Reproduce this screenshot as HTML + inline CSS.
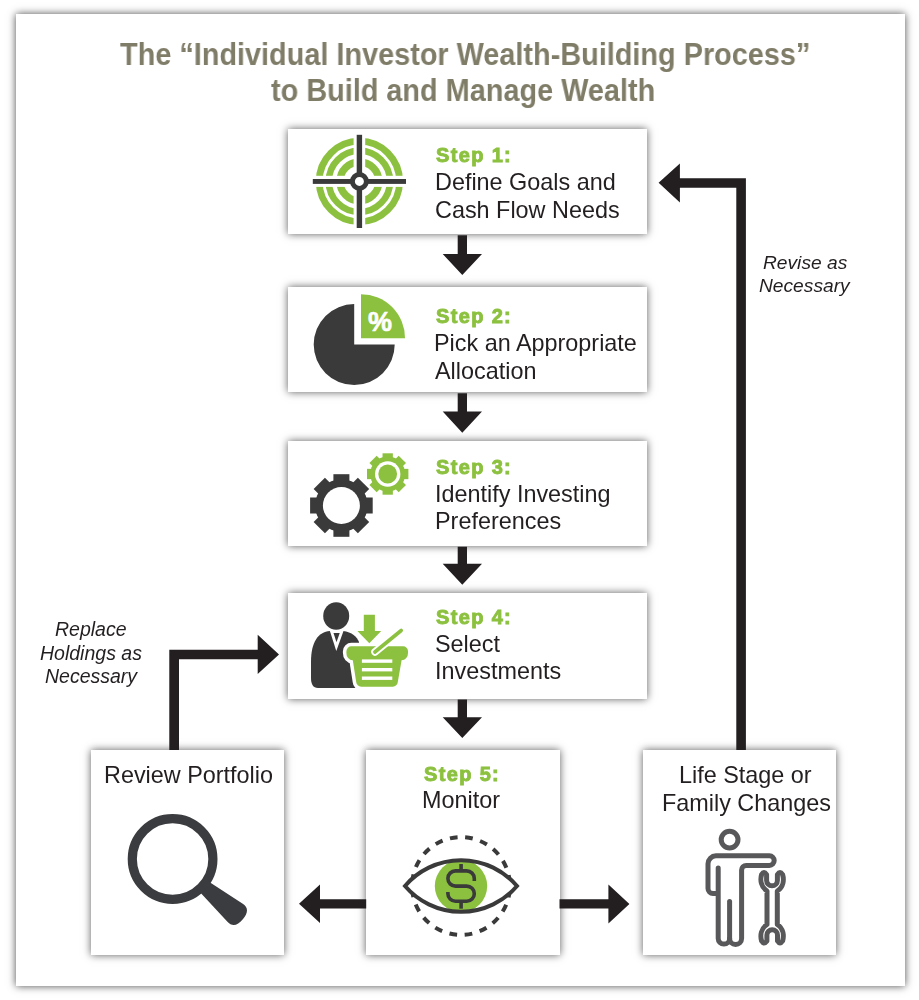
<!DOCTYPE html>
<html><head><meta charset="utf-8">
<style>
html,body{margin:0;padding:0;background:#fff;}
body{width:919px;height:1000px;position:relative;overflow:hidden;font-family:"Liberation Sans",sans-serif;color:#231f20;}
.frame{position:absolute;left:16px;top:14px;width:889px;height:972px;background:#fff;box-shadow:0 0 8px rgba(0,0,0,0.7);}
.box{position:absolute;background:#fff;box-shadow:0 0 8px rgba(0,0,0,0.64);}
.t{position:absolute;white-space:nowrap;line-height:1;will-change:transform;}
.title{font-weight:bold;font-size:30.6px;color:#7f7c67;transform:scaleX(0.943);transform-origin:0 0;}
.step{font-weight:bold;font-size:20px;color:#8cc13f;letter-spacing:1.35px;-webkit-text-stroke:0.9px #8cc13f;}
.body{font-size:23.4px;}
.it{font-style:italic;font-size:19px;}
svg{position:absolute;left:0;top:0;}
</style></head>
<body>
<div class="frame"></div>

<div class="box" style="left:288px;top:129px;width:359px;height:105px"></div>
<div class="box" style="left:288px;top:287px;width:359px;height:105px"></div>
<div class="box" style="left:288px;top:441px;width:359px;height:105px"></div>
<div class="box" style="left:288px;top:593px;width:359px;height:106px"></div>
<div class="box" style="left:91px;top:750px;width:193px;height:205px"></div>
<div class="box" style="left:366px;top:750px;width:193.5px;height:205px"></div>
<div class="box" style="left:643px;top:750px;width:193px;height:205px"></div>

<svg width="919" height="1000" viewBox="0 0 919 1000">
  <g fill="#231f20">
    <!-- down arrows -->
    <path d="M457.7 235.3 H467 V254 H482 L462.3 275 L442.7 254 H457.7 Z"/>
    <path d="M457.7 393.2 H467 V411.6 H482 L462.3 432.7 L442.7 411.6 H457.7 Z"/>
    <path d="M457.7 546.8 H467 V563.7 H482 L462.3 584.8 L442.7 563.7 H457.7 Z"/>
    <path d="M457.7 699.6 H467 V717.2 H482 L462.3 738.1 L442.7 717.2 H457.7 Z"/>
    <!-- left connector -->
    <path d="M169.3 750 V649.7 H257.7 V634.8 L279 654.4 L257.7 674 V659.2 H179 V750 Z"/>
    <!-- right connector -->
    <path d="M745.9 750 V178.2 H679.9 V163.4 L658.6 182.8 L679.9 202.6 V187.8 H736.3 V750 Z"/>
    <!-- side arrows from step5 -->
    <path d="M366.2 899.2 H320 V884.5 L299 903.8 L320 923.1 V908.4 H366.2 Z"/>
    <path d="M559.5 899.2 H608.4 V884.5 L629.4 904 L608.4 923.5 V908.6 H559.5 Z"/>
  </g>
</svg>


<svg width="919" height="1000" viewBox="0 0 919 1000">
  <!-- Step1 target icon -->
  <g>
    <g fill="none" stroke="#8cc13f">
      <circle cx="359.4" cy="181.4" r="40.2" stroke-width="6.8"/>
      <circle cx="359.4" cy="181.4" r="30.6" stroke-width="6.6"/>
      <circle cx="359.4" cy="181.4" r="19.4" stroke-width="7.4"/>
    </g>
    <rect x="353.6" y="130" width="11.6" height="104" fill="#fff"/>
    <rect x="310" y="175.8" width="100" height="11.1" fill="#fff"/>
    <g fill="#3a3a3a">
      <rect x="312.8" y="179" width="93.2" height="4.9"/>
      <rect x="356.7" y="134.8" width="5.4" height="93.2"/>
    </g>
    <circle cx="359.4" cy="181.4" r="6.95" fill="#fff" stroke="#3a3a3a" stroke-width="4.9"/>
  </g>
  <!-- Step2 pie -->
  <g>
    <path d="M354.2 344.6 V304.1 A40.5 40.5 0 1 0 394.7 344.6 Z" fill="#3a3a3a"/>
    <path d="M361 338.2 V294.2 A44 44 0 0 1 405 338.2 Z" fill="#8cc13f"/>
    <text x="380" y="331.2" fill="#fff" stroke="#fff" stroke-width="0.6" font-family="Liberation Sans" font-weight="bold" font-size="27" text-anchor="middle">%</text>
  </g>
  <!-- Step3 gears -->
  <g fill="#3a3a3a">
    <g transform="translate(341.4 505.5)">
      <circle r="26.3"/>
      <rect x="-8" y="-31.3" width="16" height="62.6"/>
      <rect x="-8" y="-31.3" width="16" height="62.6" transform="rotate(45)"/>
      <rect x="-8" y="-31.3" width="16" height="62.6" transform="rotate(90)"/>
      <rect x="-8" y="-31.3" width="16" height="62.6" transform="rotate(135)"/>
      <circle r="18.5" fill="#fff"/>
    </g>
  </g>
  <g transform="translate(387.7 474)">
    <g fill="#fff" stroke="#fff" stroke-width="3">
      <circle r="17.5"/>
      <rect x="-5.15" y="-20.7" width="10.3" height="41.4"/>
      <rect x="-5.15" y="-20.7" width="10.3" height="41.4" transform="rotate(45)"/>
      <rect x="-5.15" y="-20.7" width="10.3" height="41.4" transform="rotate(90)"/>
      <rect x="-5.15" y="-20.7" width="10.3" height="41.4" transform="rotate(135)"/>
    </g>
    <g fill="#8cc13f">
      <circle r="17.5"/>
      <rect x="-5.15" y="-20.7" width="10.3" height="41.4"/>
      <rect x="-5.15" y="-20.7" width="10.3" height="41.4" transform="rotate(45)"/>
      <rect x="-5.15" y="-20.7" width="10.3" height="41.4" transform="rotate(90)"/>
      <rect x="-5.15" y="-20.7" width="10.3" height="41.4" transform="rotate(135)"/>
    </g>
    <circle r="12.7" fill="#fff"/>
    <circle r="9.4" fill="#8cc13f"/>
  </g>
  <!-- Step4 person + basket -->
  <g>
    <ellipse cx="336.2" cy="616" rx="13" ry="13.7" fill="#3a3a3a"/>
    <path d="M330 631 H343 C352 632 357 637 359 642 L362 688 H318 C313 688 311 684 311 678 V662 C311 642 318 632 330 631 Z" fill="#3a3a3a"/>
    <path d="M329.9 631 L336.3 651 L343.5 631 Z" fill="#fff"/>
    <path d="M333.5 633.1 H339.7 L336.5 642.2 Z" fill="#3a3a3a"/>
    <!-- basket white outline -->
    <path d="M351.5 646.3 H403 A5 5 0 0 1 408 651.3 V653 A7 7 0 0 1 401.6 660.3 L397.8 682 A5 5 0 0 1 392.8 686.7 H361.2 A5 5 0 0 1 356.2 682 L352.8 660.3 A7 7 0 0 1 346.4 653 V651.3 A5 5 0 0 1 351.5 646.3 Z" fill="#fff" stroke="#fff" stroke-width="7" stroke-linejoin="round"/>
    <path d="M363.8 614.8 H374.9 V631 H381.2 L369.3 643.3 L357.4 631 H363.8 Z" fill="#8cc13f"/>
    <path d="M351.5 646.3 H403 A5 5 0 0 1 408 651.3 V653 A7 7 0 0 1 401.6 660.3 L397.8 682 A5 5 0 0 1 392.8 686.7 H361.2 A5 5 0 0 1 356.2 682 L352.8 660.3 A7 7 0 0 1 346.4 653 V651.3 A5 5 0 0 1 351.5 646.3 Z" fill="#8cc13f"/>
    <g fill="#fff">
      <rect x="361.9" y="659.4" width="30.4" height="3.4"/>
      <rect x="361.9" y="668" width="30.4" height="3.4"/>
      <rect x="361.9" y="676.5" width="30.4" height="3.4"/>
    </g>
    <line x1="374.9" y1="652" x2="401.2" y2="630.5" stroke="#fff" stroke-width="7.5" stroke-linecap="round"/>
    <line x1="374.9" y1="652" x2="401.2" y2="630.5" stroke="#8cc13f" stroke-width="3.6" stroke-linecap="round"/>
  </g>
  <!-- Step5 eye -->
  <g>
    <circle cx="461" cy="886" r="48.9" fill="none" stroke="#3a3a3a" stroke-width="4" stroke-dasharray="7.681 7.681" stroke-dashoffset="-3.84"/>
    <path d="M405 886 A73.8 73.8 0 0 1 517 886 A73.8 73.8 0 0 1 405 886 Z" fill="#fff"/>
    <clipPath id="eyeclip"><path d="M405 886 A73.8 73.8 0 0 1 517 886 A73.8 73.8 0 0 1 405 886 Z"/></clipPath>
    <circle cx="461" cy="886" r="26.2" fill="#8cc13f" clip-path="url(#eyeclip)"/>
    <path d="M405 886 A73.8 73.8 0 0 1 517 886 A73.8 73.8 0 0 1 405 886 Z" fill="none" stroke="#3a3a3a" stroke-width="4" stroke-linejoin="miter" stroke-miterlimit="10"/>
    <path d="M474.3 881 V878.5 A7.6 7.6 0 0 0 466.7 870.9 H455.5 A7.6 7.6 0 0 0 447.9 878.5 A7.6 7.6 0 0 0 455.5 886.1 H466.7 A7.6 7.6 0 0 1 474.3 893.7 A7.6 7.6 0 0 1 466.7 901.3 H455.5 A7.6 7.6 0 0 1 447.9 893.7 V892" fill="none" stroke="#3a3a3a" stroke-width="3.6"/>
    <rect x="459.3" y="864" width="3.6" height="7" fill="#3a3a3a"/>
    <rect x="459.3" y="901" width="3.6" height="7.7" fill="#3a3a3a"/>
  </g>
  <!-- magnifier -->
  <g fill="#3b3c3f">
    <circle cx="172.6" cy="859" r="40.3" fill="none" stroke="#3b3c3f" stroke-width="9.2"/>
    <path transform="translate(172.6 859) rotate(40) translate(0 1)" d="M38 -6.3 L82 -11.8 C89.5 -12.8 92.5 -8.5 92.5 0 C92.5 8.5 89.5 12.8 82 11.8 L38 6.3 Z"/>
  </g>
  <!-- life stage person + wrench -->
  <g fill="none" stroke="#58585a" stroke-width="5" stroke-linecap="round" stroke-linejoin="round">
    <circle cx="729.6" cy="839.6" r="8.4"/>
    <path d="M718.2 868 V938.4 A5.7 5.7 0 0 0 729.6 938.4 A6 6 0 0 0 741.6 938.4 V870 A4.6 4.6 0 0 1 746.2 865.4 H769.4 A4.8 4.8 0 0 0 769.4 855.8 H716 A8 8 0 0 0 708 863.8 V888.4 A5 5 0 0 0 713 893.4 H718.2"/>
    <path d="M729.6 901.5 V938.4"/>
    <path d="M767 891 C761 887 760 880 761.6 874.5 Q764 870.5 766.6 874.5 V880.4 A5.3 5.3 0 0 0 777.4 880.4 V874.5 Q780 870.5 782.6 874.5 C784.2 880 783.4 887 777.3 891 V924.5 C783.4 928.5 784.2 935.5 782.6 941 Q780 945 777.5 941 V935 A5.3 5.3 0 0 0 766.9 935 V941 Q764 945 761.6 941 C760 935.5 761 928.5 767 924.5 Z"/>
  </g>
</svg>

<div class="t title" style="left:120px;top:38.7px">The “Individual Investor Wealth-Building Process”</div>
<div class="t title" style="left:271px;top:74.5px">to Build and Manage Wealth</div>

<div class="t step" style="left:436px;top:144.8px">Step 1:</div>
<div class="t body" style="left:435px;top:170.5px">Define Goals and</div>
<div class="t body" style="left:435px;top:198.9px">Cash Flow Needs</div>

<div class="t step" style="left:436px;top:306px">Step 2:</div>
<div class="t body" style="left:434.3px;top:331.8px">Pick an Appropriate</div>
<div class="t body" style="left:435px;top:359.7px">Allocation</div>

<div class="t step" style="left:436px;top:457.1px">Step 3:</div>
<div class="t body" style="left:435px;top:482.9px">Identify Investing</div>
<div class="t body" style="left:435px;top:510.3px">Preferences</div>

<div class="t step" style="left:436px;top:606.9px">Step 4:</div>
<div class="t body" style="left:435px;top:632.6px">Select</div>
<div class="t body" style="left:435px;top:660.3px">Investments</div>

<div class="t step" style="left:424px;top:763.7px">Step 5:</div>
<div class="t body" style="left:422px;top:789.3px">Monitor</div>

<div class="t body" style="left:103.5px;top:764.1px">Review Portfolio</div>
<div class="t body" style="left:679px;top:763.9px">Life Stage or</div>
<div class="t body" style="left:662px;top:791.8px">Family Changes</div>

<div class="t it" style="left:763px;top:252.5px;font-size:19.2px">Revise as</div>
<div class="t it" style="left:759px;top:275.6px;font-size:19.2px">Necessary</div>

<div class="t it" style="left:55px;top:620.3px;font-size:19.5px">Replace</div>
<div class="t it" style="left:40px;top:643.5px;font-size:19.5px">Holdings as</div>
<div class="t it" style="left:45px;top:666.7px;font-size:19.5px">Necessary</div>

</body></html>
